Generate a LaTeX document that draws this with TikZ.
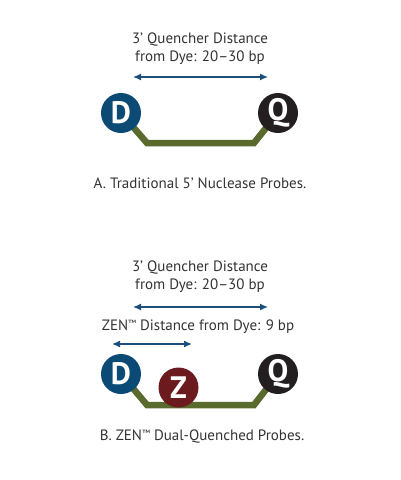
\documentclass[tikz,border=0pt]{standalone}
\usepackage{fontspec}
\setmainfont{PT Sans}
\usetikzlibrary{arrows.meta}
\definecolor{dyeblue}{HTML}{0B4A75}
\definecolor{qblack}{HTML}{231F20}
\definecolor{zred}{HTML}{6B1A1E}
\definecolor{olive}{HTML}{5A6A2D}
\definecolor{arrblue}{HTML}{1D4F7C}
\definecolor{txt}{HTML}{333333}
\newcommand\tmark{\raisebox{0.28em}{\fontsize{9}{9}\selectfont ™}}
\begin{document}
\begin{tikzpicture}[x=1pt,y=-1pt,
  ball/.style={circle,minimum size=40pt,inner sep=0pt,text=white,font=\fontsize{31}{31}\selectfont\bfseries},
  label/.style={text=txt,font=\fontsize{15}{18}\selectfont,align=center,inner sep=0pt},
  strand/.style={draw=olive,line width=6.5pt,line join=miter},
  dist/.style={draw=arrblue,line width=1.2pt,{Latex[length=8pt,width=7pt]}-{Latex[length=8pt,width=7pt]}}
]
\useasboundingbox (0,0) rectangle (400,480);
% Panel A
\node[label] (ta) at (200,49) {3’ Quencher Distance\\from Dye: 20–30 bp};
\coordinate (a1) at (133,77);
\coordinate (a2) at (268,77);
\draw[dist] (a1) -- (a2);
\coordinate (sa1) at (121,113);
\coordinate (sa2) at (147,143);
\coordinate (sa3) at (254,143);
\coordinate (sa4) at (278,113);
\draw[strand] (sa1) -- (sa2) -- (sa3) -- (sa4);
\node[ball,fill=dyeblue] (da) at (sa1) {D};
\node[ball,fill=qblack] (qa) at (sa4) {Q};
\node[label] (capa) at (200,183) {A. Traditional 5’ Nuclease Probes.};
% Panel B
\node[label] (tb) at (200,277) {3’ Quencher Distance\\from Dye: 20–30 bp};
\coordinate (b1) at (133,307);
\coordinate (b2) at (268,307);
\draw[dist] (b1) -- (b2);
\node[label] (zt) at (198,327) {ZEN\tmark{} Distance from Dye: 9 bp};
\coordinate (c1) at (112,344);
\coordinate (c2) at (192,344);
\draw[dist] (c1) -- (c2);
\coordinate (sb1) at (121,374);
\coordinate (sb2) at (147,405);
\coordinate (sb3) at (254,405);
\coordinate (sb4) at (278,374);
\draw[strand] (sb1) -- (sb2) -- (sb3) -- (sb4);
\node[ball,fill=dyeblue] (db) at (sb1) {D};
\node[ball,fill=zred] (zb) at (178.5,387.5) {Z};
\node[ball,fill=qblack] (qb) at (sb4) {Q};
\node[label] (capb) at (202,437) {B. ZEN\tmark{} Dual-Quenched Probes.};
\end{tikzpicture}
\end{document}
